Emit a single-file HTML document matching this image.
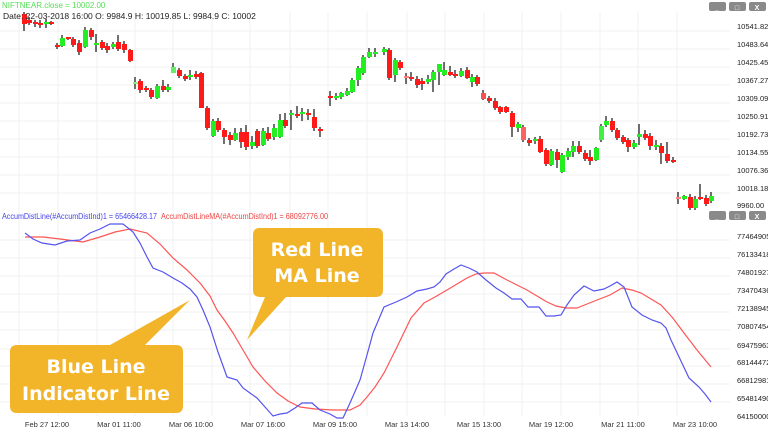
<!DOCTYPE html>
<html><head><meta charset="utf-8"><style>
html,body{margin:0;padding:0;background:#fff;}
svg{display:block;font-family:"Liberation Sans",sans-serif;}
</style></head><body>
<svg width="768" height="437" viewBox="0 0 768 437" xmlns="http://www.w3.org/2000/svg">
<rect width="768" height="437" fill="#fff"/>
<g stroke="#f0f0f0" stroke-width="1">
<line x1="19" y1="12" x2="19" y2="416"/><line x1="58" y1="12" x2="58" y2="416"/><line x1="97" y1="12" x2="97" y2="416"/><line x1="135" y1="12" x2="135" y2="416"/><line x1="173" y1="12" x2="173" y2="416"/><line x1="212" y1="12" x2="212" y2="416"/><line x1="250" y1="12" x2="250" y2="416"/><line x1="290" y1="12" x2="290" y2="416"/><line x1="328" y1="12" x2="328" y2="416"/><line x1="367" y1="12" x2="367" y2="416"/><line x1="407" y1="12" x2="407" y2="416"/><line x1="445" y1="12" x2="445" y2="416"/><line x1="484" y1="12" x2="484" y2="416"/><line x1="522" y1="12" x2="522" y2="416"/><line x1="561" y1="12" x2="561" y2="416"/><line x1="600" y1="12" x2="600" y2="416"/><line x1="638" y1="12" x2="638" y2="416"/><line x1="677" y1="12" x2="677" y2="416"/>
<line x1="0" y1="31" x2="730" y2="31"/><line x1="0" y1="49" x2="730" y2="49"/><line x1="0" y1="67" x2="730" y2="67"/><line x1="0" y1="85" x2="730" y2="85"/><line x1="0" y1="103" x2="730" y2="103"/><line x1="0" y1="121" x2="730" y2="121"/><line x1="0" y1="139" x2="730" y2="139"/><line x1="0" y1="157" x2="730" y2="157"/><line x1="0" y1="175" x2="730" y2="175"/><line x1="0" y1="193" x2="730" y2="193"/>
<line x1="0" y1="240" x2="730" y2="240"/><line x1="0" y1="258" x2="730" y2="258"/><line x1="0" y1="276" x2="730" y2="276"/><line x1="0" y1="294" x2="730" y2="294"/><line x1="0" y1="312" x2="730" y2="312"/><line x1="0" y1="330" x2="730" y2="330"/><line x1="0" y1="349" x2="730" y2="349"/><line x1="0" y1="366" x2="730" y2="366"/><line x1="0" y1="384" x2="730" y2="384"/><line x1="0" y1="402" x2="730" y2="402"/>
</g>
<g stroke="#222" stroke-width="1.3">
<line x1="24" y1="12" x2="24" y2="31"/><line x1="29" y1="17" x2="29" y2="25"/><line x1="35" y1="20" x2="35" y2="27"/><line x1="40" y1="20" x2="40" y2="28"/><line x1="46" y1="19" x2="46" y2="28"/><line x1="51" y1="21" x2="51" y2="25"/>
<line x1="57" y1="43" x2="57" y2="49"/><line x1="62" y1="35" x2="62" y2="47"/><line x1="68" y1="37" x2="68" y2="40"/><line x1="73" y1="37" x2="73" y2="47"/><line x1="79" y1="40" x2="79" y2="55"/><line x1="85" y1="27" x2="85" y2="48"/><line x1="91" y1="28" x2="91" y2="40"/><line x1="96" y1="34" x2="96" y2="52"/><line x1="102" y1="40" x2="102" y2="50"/><line x1="107" y1="43" x2="107" y2="53"/><line x1="113" y1="42" x2="113" y2="49"/><line x1="118" y1="35" x2="118" y2="51"/><line x1="124" y1="41" x2="124" y2="53"/><line x1="130" y1="49" x2="130" y2="62"/>
<line x1="135" y1="77" x2="135" y2="89"/><line x1="140" y1="79" x2="140" y2="93"/><line x1="146" y1="86" x2="146" y2="92"/><line x1="151" y1="88" x2="151" y2="99"/><line x1="157" y1="84" x2="157" y2="99"/><line x1="163" y1="80" x2="163" y2="92"/><line x1="168" y1="84" x2="168" y2="92"/>
<line x1="173" y1="63" x2="173" y2="73"/><line x1="179" y1="68" x2="179" y2="78"/><line x1="185" y1="74" x2="185" y2="81"/><line x1="190" y1="70" x2="190" y2="80"/><line x1="196" y1="71" x2="196" y2="79"/><line x1="201" y1="72" x2="201" y2="108"/>
<line x1="207" y1="106" x2="207" y2="130"/><line x1="213" y1="119" x2="213" y2="137"/><line x1="218" y1="118" x2="218" y2="132"/><line x1="224" y1="128" x2="224" y2="144"/><line x1="230" y1="132" x2="230" y2="145"/><line x1="235" y1="128" x2="235" y2="141"/><line x1="241" y1="128" x2="241" y2="148"/><line x1="246" y1="125" x2="246" y2="150"/><line x1="252" y1="136" x2="252" y2="149"/><line x1="257" y1="129" x2="257" y2="148"/><line x1="263" y1="128" x2="263" y2="146"/><line x1="268" y1="127" x2="268" y2="141"/><line x1="274" y1="124" x2="274" y2="140"/><line x1="280" y1="114" x2="280" y2="138"/><line x1="285" y1="113" x2="285" y2="128"/><line x1="291" y1="110" x2="291" y2="130"/><line x1="297" y1="106" x2="297" y2="118"/><line x1="302" y1="108" x2="302" y2="121"/><line x1="308" y1="109" x2="308" y2="120"/><line x1="314" y1="109" x2="314" y2="131"/><line x1="320" y1="127" x2="320" y2="137"/>
<line x1="330" y1="91" x2="330" y2="106"/><line x1="336" y1="93" x2="336" y2="100"/><line x1="341" y1="92" x2="341" y2="99"/><line x1="347" y1="88" x2="347" y2="96"/><line x1="352" y1="78" x2="352" y2="93"/><line x1="358" y1="66" x2="358" y2="86"/><line x1="363" y1="55" x2="363" y2="75"/><line x1="369" y1="48" x2="369" y2="58"/><line x1="375" y1="48" x2="375" y2="57"/>
<line x1="384" y1="47" x2="384" y2="55"/><line x1="389" y1="48" x2="389" y2="80"/><line x1="395" y1="58" x2="395" y2="82"/><line x1="400" y1="60" x2="400" y2="70"/><line x1="406" y1="73" x2="406" y2="84"/><line x1="411" y1="72" x2="411" y2="81"/><line x1="417" y1="76" x2="417" y2="88"/><line x1="422" y1="78" x2="422" y2="90"/><line x1="428" y1="75" x2="428" y2="84"/><line x1="433" y1="70" x2="433" y2="92"/><line x1="439" y1="66" x2="439" y2="85"/><line x1="444" y1="62" x2="444" y2="76"/><line x1="450" y1="66" x2="450" y2="76"/><line x1="455" y1="70" x2="455" y2="78"/><line x1="461" y1="68" x2="461" y2="77"/><line x1="467" y1="67" x2="467" y2="79"/><line x1="472" y1="74" x2="472" y2="87"/><line x1="477" y1="75" x2="477" y2="86"/>
<line x1="483" y1="90" x2="483" y2="100"/><line x1="489" y1="96" x2="489" y2="103"/><line x1="495" y1="98" x2="495" y2="110"/><line x1="500" y1="106" x2="500" y2="114"/><line x1="506" y1="106" x2="506" y2="113"/><line x1="512" y1="111" x2="512" y2="137"/><line x1="518" y1="122" x2="518" y2="132"/><line x1="523" y1="125" x2="523" y2="142"/><line x1="529" y1="138" x2="529" y2="146"/><line x1="535" y1="137" x2="535" y2="144"/><line x1="540" y1="136" x2="540" y2="153"/><line x1="546" y1="148" x2="546" y2="166"/><line x1="551" y1="149" x2="551" y2="166"/><line x1="557" y1="149" x2="557" y2="168"/><line x1="562" y1="153" x2="562" y2="173"/><line x1="568" y1="148" x2="568" y2="160"/><line x1="573" y1="141" x2="573" y2="157"/><line x1="579" y1="141" x2="579" y2="154"/><line x1="585" y1="150" x2="585" y2="161"/><line x1="590" y1="150" x2="590" y2="165"/><line x1="596" y1="147" x2="596" y2="161"/>
<line x1="601" y1="124" x2="601" y2="142"/><line x1="606" y1="116" x2="606" y2="127"/><line x1="612" y1="118" x2="612" y2="132"/><line x1="617" y1="128" x2="617" y2="140"/><line x1="623" y1="135" x2="623" y2="144"/><line x1="628" y1="138" x2="628" y2="152"/><line x1="634" y1="140" x2="634" y2="149"/><line x1="639" y1="124" x2="639" y2="145"/><line x1="645" y1="130" x2="645" y2="140"/><line x1="650" y1="133" x2="650" y2="150"/><line x1="656" y1="140" x2="656" y2="150"/><line x1="661" y1="143" x2="661" y2="164"/><line x1="667" y1="142" x2="667" y2="163"/><line x1="673" y1="157" x2="673" y2="163"/>
<line x1="678" y1="192" x2="678" y2="204"/><line x1="684" y1="195" x2="684" y2="200"/><line x1="690" y1="194" x2="690" y2="210"/><line x1="695" y1="196" x2="695" y2="210"/><line x1="700" y1="184" x2="700" y2="200"/><line x1="706" y1="195" x2="706" y2="206"/><line x1="711" y1="192" x2="711" y2="203"/>
</g>
<g fill="#ff1a1a">
<rect x="22" y="14" width="5" height="10"/><rect x="27" y="20" width="5" height="3"/><rect x="33" y="22" width="5" height="2"/><rect x="38" y="23" width="5" height="2"/><rect x="49" y="22" width="5" height="2"/>
<rect x="55" y="45" width="5" height="2"/><rect x="66" y="37" width="5" height="2"/><rect x="71" y="39" width="5" height="6"/><rect x="77" y="43" width="5" height="9"/><rect x="89" y="30" width="5" height="7"/><rect x="100" y="42" width="5" height="6"/><rect x="105" y="46" width="5" height="4"/><rect x="116" y="42" width="5" height="7"/><rect x="122" y="44" width="5" height="6"/><rect x="128" y="50" width="5" height="11"/>
<rect x="138" y="81" width="5" height="9"/><rect x="144" y="88" width="5" height="2"/><rect x="149" y="90" width="5" height="7"/><rect x="161" y="86" width="5" height="4"/>
<rect x="177" y="70" width="5" height="6"/><rect x="183" y="76" width="5" height="3"/><rect x="194" y="74" width="5" height="3"/><rect x="199" y="73" width="5" height="35"/>
<rect x="205" y="108" width="5" height="20"/><rect x="216" y="121" width="5" height="9"/><rect x="222" y="130" width="5" height="7"/><rect x="228" y="135" width="5" height="5"/><rect x="239" y="132" width="5" height="10"/><rect x="244" y="132" width="5" height="15"/><rect x="255" y="131" width="5" height="15"/><rect x="266" y="133" width="5" height="6"/><rect x="283" y="120" width="5" height="6"/><rect x="295" y="114" width="5" height="2"/><rect x="306" y="113" width="5" height="2"/><rect x="312" y="117" width="5" height="11"/><rect x="318" y="129" width="5" height="2"/>
<rect x="328" y="96" width="5" height="2"/>
<rect x="387" y="50" width="5" height="28"/><rect x="398" y="62" width="5" height="6"/><rect x="404" y="76" width="5" height="2" fill="#ff8080"/><rect x="409" y="77" width="5" height="2"/><rect x="415" y="79" width="5" height="6"/><rect x="420" y="81" width="5" height="3"/><rect x="448" y="72" width="5" height="3"/><rect x="453" y="74" width="5" height="2"/><rect x="465" y="70" width="5" height="8"/><rect x="475" y="77" width="5" height="7"/>
<rect x="481" y="93" width="5" height="6" fill="#ff5050"/><rect x="487" y="98" width="5" height="3"/><rect x="493" y="101" width="5" height="7"/><rect x="498" y="107" width="5" height="5"/><rect x="504" y="107" width="5" height="5"/><rect x="510" y="113" width="5" height="14"/><rect x="521" y="127" width="5" height="13" fill="#ff6060"/><rect x="527" y="140" width="5" height="3"/><rect x="538" y="139" width="5" height="13"/><rect x="544" y="150" width="5" height="14"/><rect x="555" y="152" width="5" height="8"/><rect x="577" y="146" width="5" height="6"/><rect x="583" y="153" width="5" height="6"/><rect x="588" y="157" width="5" height="4"/>
<rect x="610" y="121" width="5" height="9"/><rect x="615" y="130" width="5" height="8"/><rect x="621" y="137" width="5" height="5"/><rect x="626" y="140" width="5" height="7"/><rect x="643" y="134" width="5" height="4"/><rect x="648" y="136" width="5" height="10"/><rect x="659" y="146" width="5" height="7"/><rect x="665" y="154" width="5" height="7"/><rect x="671" y="160" width="5" height="2"/>
<rect x="688" y="197" width="5" height="11"/><rect x="698" y="197" width="5" height="2"/><rect x="704" y="198" width="5" height="6"/>
</g>
<g fill="#22ee22">
<rect x="44" y="22" width="5" height="2"/><rect x="60" y="38" width="5" height="8"/><rect x="83" y="30" width="5" height="17"/><rect x="94" y="43" width="5" height="2"/><rect x="111" y="44" width="5" height="3"/>
<rect x="133" y="82" width="5" height="2" fill="#88ee88"/><rect x="155" y="86" width="5" height="12"/><rect x="166" y="87" width="5" height="3"/>
<rect x="171" y="67" width="5" height="6" fill="#66ee66"/><rect x="188" y="75" width="5" height="2"/>
<rect x="211" y="121" width="5" height="15"/><rect x="233" y="133" width="5" height="7"/><rect x="250" y="142" width="5" height="4"/><rect x="261" y="131" width="5" height="14"/><rect x="272" y="128" width="5" height="9"/><rect x="278" y="120" width="5" height="17"/><rect x="289" y="113" width="5" height="2"/><rect x="300" y="112" width="5" height="2"/>
<rect x="334" y="96" width="5" height="2"/><rect x="339" y="93" width="5" height="4"/><rect x="345" y="91" width="5" height="4"/><rect x="350" y="80" width="5" height="12"/><rect x="356" y="68" width="5" height="12"/><rect x="361" y="57" width="5" height="16"/><rect x="367" y="52" width="5" height="5"/><rect x="373" y="52" width="5" height="2"/>
<rect x="382" y="49" width="5" height="3"/><rect x="393" y="60" width="5" height="15"/><rect x="426" y="79" width="5" height="3"/><rect x="431" y="72" width="5" height="8"/><rect x="437" y="64" width="5" height="8"/><rect x="442" y="70" width="5" height="5"/><rect x="459" y="71" width="5" height="5"/><rect x="470" y="77" width="5" height="5"/>
<rect x="516" y="124" width="5" height="4"/><rect x="533" y="139" width="5" height="2"/><rect x="549" y="151" width="5" height="14"/><rect x="560" y="155" width="5" height="17"/><rect x="566" y="151" width="5" height="6"/><rect x="571" y="146" width="5" height="6"/><rect x="594" y="148" width="5" height="12"/>
<rect x="599" y="126" width="5" height="14" fill="#44ee44"/><rect x="604" y="121" width="5" height="4"/><rect x="632" y="143" width="5" height="4"/><rect x="637" y="134" width="5" height="3"/><rect x="654" y="145" width="5" height="2"/>
<rect x="676" y="197" width="5" height="2" fill="#ff8080"/><rect x="682" y="196" width="5" height="3"/><rect x="693" y="199" width="5" height="9"/><rect x="709" y="196" width="5" height="5"/>
</g>
<text x="2" y="8" font-size="8" fill="#55dd55">NIFTNEAR.close = 10002.00</text>
<text x="3" y="19" font-size="8.5" fill="#222">Date: 22-03-2018 16:00 O: 9984.9 H: 10019.85 L: 9984.9 C: 10002</text>
<g font-size="7.5" fill="#222">
<text x="737" y="29">10541.82</text><text x="737" y="47">10483.64</text><text x="737" y="65">10425.45</text><text x="737" y="83">10367.27</text><text x="737" y="101">10309.09</text><text x="737" y="119">10250.91</text><text x="737" y="137">10192.73</text><text x="737" y="155">10134.55</text><text x="737" y="173">10076.36</text><text x="737" y="191">10018.18</text><text x="737" y="208">9960.00</text>
<text x="737" y="239">77464905</text><text x="737" y="257">76133418</text><text x="737" y="275">74801927</text><text x="737" y="293">73470436</text><text x="737" y="311">72138945</text><text x="737" y="329">70807454</text><text x="737" y="348">69475963</text><text x="737" y="365">68144472</text><text x="737" y="383">66812981</text><text x="737" y="401">65481490</text><text x="737" y="419">64150000</text>
</g>
<g font-size="7.5" fill="#333" text-anchor="middle">
<text x="47" y="427">Feb 27 12:00</text><text x="119" y="427">Mar 01 11:00</text><text x="191" y="427">Mar 06 10:00</text><text x="263" y="427">Mar 07 16:00</text><text x="335" y="427">Mar 09 15:00</text><text x="407" y="427">Mar 13 14:00</text><text x="479" y="427">Mar 15 13:00</text><text x="551" y="427">Mar 19 12:00</text><text x="623" y="427">Mar 21 11:00</text><text x="695" y="427">Mar 23 10:00</text>
</g>
<g>
<rect x="709" y="2" width="17" height="9" rx="2" fill="#8a8a8a"/><rect x="729" y="2" width="17" height="9" rx="2" fill="#8a8a8a"/><rect x="749" y="2" width="17" height="9" rx="2" fill="#8a8a8a"/>
<rect x="709" y="211" width="17" height="9" rx="2" fill="#8a8a8a"/><rect x="729" y="211" width="17" height="9" rx="2" fill="#8a8a8a"/><rect x="749" y="211" width="17" height="9" rx="2" fill="#8a8a8a"/>
<g fill="#fff" font-size="7" font-weight="bold" text-anchor="middle"><text x="717" y="10">_</text><text x="737" y="10">□</text><text x="757" y="10">X</text><text x="717" y="219">_</text><text x="737" y="219">□</text><text x="757" y="219">X</text></g>
</g>
<text x="2" y="219" font-size="7.8" fill="#4444ee" textLength="155" lengthAdjust="spacingAndGlyphs">AccumDistLine(#AccumDistInd)1 = 65466428.17</text>
<text x="161" y="219" font-size="7.8" fill="#ee4444" textLength="167" lengthAdjust="spacingAndGlyphs">AccumDistLineMA(#AccumDistInd)1 = 68092776.00</text>
<polyline fill="none" stroke="#ff5555" stroke-width="1.2" points="25,237 43,237 60,239 83,242 100,237 115,232 130,229 147,233 160,244 173,258 187,270 200,283 210,296 217,310 225,321 233,333 243,350 253,367 265,381 277,393 288,401 300,407 315,409 333,410 350,410 360,405 367,397 375,387 384,373 397,347 411,318 424,303 435,297 447,290 457,284 467,278 476,274 484,273 494,273 507,280 517,285 527,290 537,296 547,302 556,306 566,308 577,308 587,304 597,300 610,295 622,288 632,290 641,293 651,299 661,305 672,317 684,333 697,350 711,367"/>
<polyline fill="none" stroke="#5555ee" stroke-width="1.2" points="25,233 33,239 42,243 55,245 67,241 80,240 90,233 100,229 110,224 123,224 133,232 140,243 147,257 153,268 163,272 173,278 182,283 190,289 197,297 203,310 210,327 218,352 227,377 237,380 243,388 250,393 257,398 265,407 273,416 280,414 287,413 295,408 302,403 312,403 320,410 330,414 337,418 343,418 350,403 360,380 367,355 373,333 384,307 396,302 407,297 417,291 427,289 434,287 440,282 446,274 454,269 461,265 469,268 477,272 486,280 496,288 504,293 512,299 521,299 528,307 539,307 546,316 554,316 561,315 567,305 574,295 584,286 594,291 604,289 610,286 617,282 624,287 632,307 642,315 652,320 661,323 666,328 671,340 680,359 689,378 699,387 705,394 711,402"/>
<g fill="#f2b52a">
<path d="M18,345 L110,345 L190,300 L145,345 L176,345 Q183,345 183,352 L183,406 Q183,413 176,413 L17,413 Q10,413 10,406 L10,352 Q10,345 17,345 Z"/>
<path d="M260,228 L376,228 Q383,228 383,235 L383,290 Q383,297 376,297 L286,297 L247,340 L265,297 L260,297 Q253,297 253,290 L253,235 Q253,228 260,228 Z"/>
</g>
<g fill="#fff" font-size="19" font-weight="bold" text-anchor="middle" font-family="'DejaVu Sans','Liberation Sans',sans-serif">
<text x="317" y="256">Red Line</text><text x="317" y="282">MA Line</text>
<text x="96" y="373">Blue Line</text><text x="96" y="400">Indicator Line</text>
</g>
</svg>
</body></html>
